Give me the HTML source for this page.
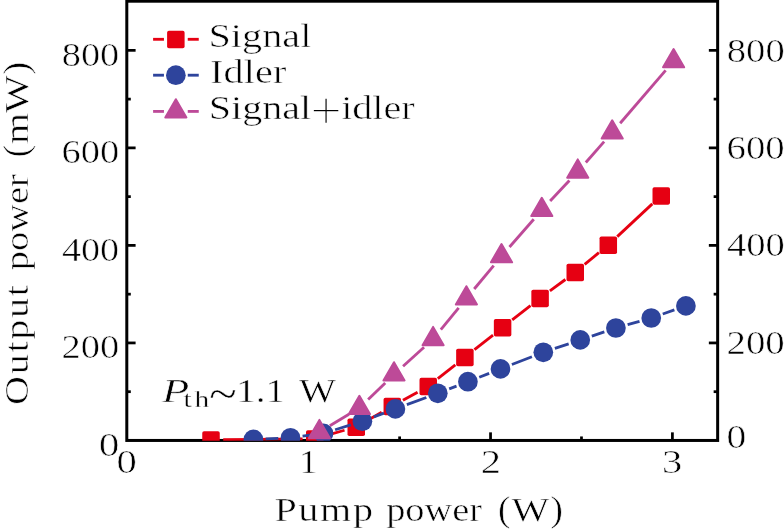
<!DOCTYPE html>
<html lang="en"><head><meta charset="utf-8"><title>Output power versus pump power</title>
<style>
html,body{margin:0;padding:0;background:#fff;}
body{width:784px;height:529px;overflow:hidden;}
svg{display:block;}
text{font-family:"Liberation Serif","DejaVu Serif",serif;fill:#000;stroke:#fff;stroke-width:0.55px;}
text.plus{stroke-width:1.5px;}
text.sub{stroke-width:0.35px;}
</style></head><body>
<svg width="784" height="529" viewBox="0 0 784 529">
<rect width="784" height="529" fill="#fff"/>
<rect x="126.8" y="1.2" width="590.85" height="439.25" fill="none" stroke="#000" stroke-width="3.0"/>
<g stroke="#000" stroke-width="2.75"><line x1="126.8" y1="342.93" x2="135.6" y2="342.93"/><line x1="717.65" y1="342.93" x2="708.85" y2="342.93"/><line x1="126.8" y1="245.40" x2="135.6" y2="245.40"/><line x1="717.65" y1="245.40" x2="708.85" y2="245.40"/><line x1="126.8" y1="147.88" x2="135.6" y2="147.88"/><line x1="717.65" y1="147.88" x2="708.85" y2="147.88"/><line x1="126.8" y1="50.35" x2="135.6" y2="50.35"/><line x1="717.65" y1="50.35" x2="708.85" y2="50.35"/><line x1="126.8" y1="391.69" x2="130.8" y2="391.69"/><line x1="717.65" y1="391.69" x2="713.65" y2="391.69"/><line x1="126.8" y1="294.16" x2="130.8" y2="294.16"/><line x1="717.65" y1="294.16" x2="713.65" y2="294.16"/><line x1="126.8" y1="196.64" x2="130.8" y2="196.64"/><line x1="717.65" y1="196.64" x2="713.65" y2="196.64"/><line x1="126.8" y1="99.11" x2="130.8" y2="99.11"/><line x1="717.65" y1="99.11" x2="713.65" y2="99.11"/><line x1="308.67" y1="440.45" x2="308.67" y2="432.35"/><line x1="490.54" y1="440.45" x2="490.54" y2="432.35"/><line x1="672.41" y1="440.45" x2="672.41" y2="432.35"/><line x1="217.74" y1="440.45" x2="217.74" y2="436.45"/><line x1="399.61" y1="440.45" x2="399.61" y2="436.45"/><line x1="581.48" y1="440.45" x2="581.48" y2="436.45"/></g>
<clipPath id="plot"><rect x="126.8" y="1.2" width="590.85" height="439.45"/></clipPath>
<g clip-path="url(#plot)">
<g stroke="#e60012" stroke-width="2.85" fill="none"><line x1="223.20" y1="439.63" x2="302.55" y2="438.87"/><line x1="326.48" y1="435.40" x2="344.52" y2="430.25"/><line x1="366.84" y1="420.85" x2="381.71" y2="412.35"/><line x1="402.96" y1="400.37" x2="417.59" y2="392.23"/><line x1="437.81" y1="378.72" x2="455.34" y2="364.83"/><line x1="474.48" y1="349.69" x2="493.02" y2="335.06"/><line x1="512.20" y1="319.97" x2="530.50" y2="305.63"/><line x1="549.93" y1="290.87" x2="565.42" y2="279.48"/><line x1="584.65" y1="264.47" x2="598.90" y2="252.68"/><line x1="617.23" y1="236.59" x2="652.32" y2="203.91"/></g>
<g fill="#e60012"><rect x="202.25" y="431.30" width="17.5" height="17.5" rx="1.8"/><rect x="306.00" y="430.30" width="17.5" height="17.5" rx="1.8"/><rect x="347.50" y="418.45" width="17.5" height="17.5" rx="1.8"/><rect x="383.55" y="397.85" width="17.5" height="17.5" rx="1.8"/><rect x="419.50" y="377.85" width="17.5" height="17.5" rx="1.8"/><rect x="456.15" y="348.80" width="17.5" height="17.5" rx="1.8"/><rect x="493.85" y="319.05" width="17.5" height="17.5" rx="1.8"/><rect x="531.35" y="289.65" width="17.5" height="17.5" rx="1.8"/><rect x="566.50" y="263.80" width="17.5" height="17.5" rx="1.8"/><rect x="599.55" y="236.45" width="17.5" height="17.5" rx="1.8"/><rect x="652.50" y="187.15" width="17.5" height="17.5" rx="1.8"/></g>
<g stroke="#2e449c" stroke-width="2.85" fill="none"><line x1="265.59" y1="438.91" x2="278.31" y2="438.34"/><line x1="302.59" y1="436.19" x2="311.41" y2="435.01"/><line x1="335.14" y1="429.75" x2="350.76" y2="424.85"/><line x1="373.83" y1="416.94" x2="383.97" y2="413.16"/><line x1="406.85" y1="404.69" x2="426.35" y2="397.51"/><line x1="449.18" y1="388.91" x2="456.52" y2="386.09"/><line x1="479.26" y1="377.24" x2="489.14" y2="373.36"/><line x1="511.87" y1="364.49" x2="531.93" y2="356.71"/><line x1="554.87" y1="348.42" x2="568.68" y2="343.78"/><line x1="591.82" y1="336.04" x2="604.33" y2="331.86"/><line x1="627.64" y1="324.68" x2="639.51" y2="321.32"/><line x1="662.77" y1="313.98" x2="674.38" y2="309.92"/></g>
<g fill="#2e449c"><circle cx="253.40" cy="439.45" r="9.85"/><circle cx="290.50" cy="437.80" r="9.85"/><circle cx="323.50" cy="433.40" r="9.85"/><circle cx="362.40" cy="421.20" r="9.85"/><circle cx="395.40" cy="408.90" r="9.85"/><circle cx="437.80" cy="393.30" r="9.85"/><circle cx="467.90" cy="381.70" r="9.85"/><circle cx="500.50" cy="368.90" r="9.85"/><circle cx="543.30" cy="352.30" r="9.85"/><circle cx="580.25" cy="339.90" r="9.85"/><circle cx="615.90" cy="328.00" r="9.85"/><circle cx="651.25" cy="318.00" r="9.85"/><circle cx="685.90" cy="305.90" r="9.85"/></g>
<g stroke="#bd4a98" stroke-width="2.85" fill="none"><line x1="329.85" y1="425.80" x2="348.95" y2="414.30"/><line x1="368.15" y1="399.50" x2="385.25" y2="382.90"/><line x1="403.06" y1="366.22" x2="424.04" y2="347.28"/><line x1="440.83" y1="329.66" x2="458.67" y2="307.84"/><line x1="474.20" y1="289.02" x2="493.70" y2="265.58"/><line x1="509.52" y1="247.01" x2="533.78" y2="219.19"/><line x1="550.14" y1="201.09" x2="569.41" y2="180.51"/><line x1="585.82" y1="162.45" x2="604.13" y2="141.65"/><line x1="620.16" y1="123.26" x2="665.64" y2="70.44"/></g>
<g fill="#bd4a98" stroke="#bd4a98" stroke-width="2" stroke-linejoin="round"><polygon points="319.40,419.90 329.97,438.20 308.83,438.20"/><polygon points="359.40,395.80 369.97,414.10 348.83,414.10"/><polygon points="394.00,362.20 404.57,380.50 383.43,380.50"/><polygon points="433.10,326.90 443.67,345.20 422.53,345.20"/><polygon points="466.40,286.20 476.97,304.50 455.83,304.50"/><polygon points="501.50,244.00 512.07,262.30 490.93,262.30"/><polygon points="541.80,197.80 552.37,216.10 531.23,216.10"/><polygon points="577.75,159.40 588.32,177.70 567.18,177.70"/><polygon points="612.20,120.30 622.77,138.60 601.63,138.60"/><polygon points="673.60,49.00 684.17,67.30 663.03,67.30"/></g>
</g>
<g stroke="#e60012" stroke-width="2.85"><line x1="153.1" y1="39.3" x2="163.95" y2="39.3"/><line x1="187.75" y1="39.3" x2="198.75" y2="39.3"/></g><g fill="#e60012"><rect x="167.10" y="30.85" width="17.5" height="17.5" rx="1.8"/></g>
<g stroke="#2e449c" stroke-width="2.85"><line x1="153.1" y1="75.2" x2="163.95" y2="75.2"/><line x1="187.75" y1="75.2" x2="198.75" y2="75.2"/></g><g fill="#2e449c"><circle cx="175.85" cy="75.20" r="9.85"/></g>
<g stroke="#bd4a98" stroke-width="2.85"><line x1="153.1" y1="111.4" x2="163.95" y2="111.4"/><line x1="187.75" y1="111.4" x2="198.75" y2="111.4"/></g><g fill="#bd4a98" stroke="#bd4a98" stroke-width="2" stroke-linejoin="round"><polygon points="175.85,99.20 186.42,117.50 165.28,117.50"/></g>
<text transform="translate(61.79,65.70) scale(1.1063,1)" font-size="34.6">800</text>
<text transform="translate(61.60,163.25) scale(1.1101,1)" font-size="34.6">600</text>
<text transform="translate(61.90,260.75) scale(1.1041,1)" font-size="34.6">400</text>
<text transform="translate(61.56,358.35) scale(1.1108,1)" font-size="34.6">200</text>
<text transform="translate(98.68,455.85) scale(1.1934,1)" font-size="34.6">0</text>
<text transform="translate(726.78,61.60) scale(1.1164,1)" font-size="34.6">800</text>
<text transform="translate(726.58,159.20) scale(1.1203,1)" font-size="34.6">600</text>
<text transform="translate(726.90,256.40) scale(1.1141,1)" font-size="34.6">400</text>
<text transform="translate(726.55,354.35) scale(1.1210,1)" font-size="34.6">200</text>
<text transform="translate(726.49,447.70) scale(1.1422,1)" font-size="34.6">0</text>
<text transform="translate(116.45,473.00) scale(1.1763,1)" font-size="34.6">0</text>
<text transform="translate(299.00,472.80) scale(1.0672,1)" font-size="34.6">1</text>
<text transform="translate(480.72,472.80) scale(1.1716,1)" font-size="34.6">2</text>
<text transform="translate(662.06,473.00) scale(1.1719,1)" font-size="34.6">3</text>
<text transform="translate(208.47,47.00) scale(1.1600,1)" font-size="34.6" letter-spacing="0.05">Signal</text>
<text transform="translate(210.00,83.20) scale(1.1600,1)" font-size="34.6" letter-spacing="0.12">Idler</text>
<text transform="translate(208.77,119.35) scale(1.1567,1)" font-size="34.6">Signal</text>
<text class="plus" transform="translate(310.21,128.80) scale(1.0387,1)" font-size="54">+</text>
<text transform="translate(341.16,119.35) scale(1.1599,1)" font-size="34.6">idler</text>
<text transform="translate(161.89,402.25) scale(1.2890,1)" font-size="34.6" font-style="italic">P</text>
<text class="sub" transform="translate(183.46,407.00) scale(1.2500,1)" font-size="23.6" letter-spacing="2.18">th</text>
<text transform="translate(208.92,409.30) scale(1.1175,1)" font-size="46">~</text>
<text transform="translate(236.22,402.20) scale(1.1277,1)" font-size="34.6">1.1</text>
<text transform="translate(299.01,402.20) scale(1.1334,1)" font-size="34.6">W</text>
<text transform="translate(274.39,520.60) scale(1.1600,1)" font-size="34.6" letter-spacing="1.42">Pump</text>
<text transform="translate(386.13,520.60) scale(1.1098,1)" font-size="34.6">power</text>
<text transform="translate(498.12,520.60) scale(1.0106,1)" font-size="36.6">(</text>
<text transform="translate(511.61,520.60) scale(1.1549,1)" font-size="34.6">W</text>
<text transform="translate(550.45,520.60) scale(1.0213,1)" font-size="36.6">)</text>
<text transform="translate(28.20,404.90) rotate(-90) scale(1.1600,1)" font-size="34.6" letter-spacing="1.45">Output</text>
<text transform="translate(28.20,270.17) rotate(-90) scale(1.1098,1)" font-size="34.6">power</text>
<text transform="translate(28.20,157.42) rotate(-90) scale(1.0372,1)" font-size="36.6">(</text>
<text transform="translate(28.20,144.09) rotate(-90) scale(1.1569,1)" font-size="34.6">mW</text>
<text transform="translate(28.20,74.47) rotate(-90) scale(1.0372,1)" font-size="36.6">)</text>
</svg></body></html>
